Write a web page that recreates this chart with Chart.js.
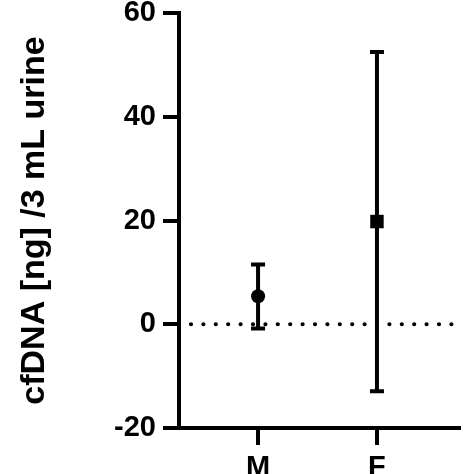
<!DOCTYPE html>
<html>
<head>
<meta charset="utf-8">
<script src="https://cdn.jsdelivr.net/npm/chart.js@4.4.1/dist/chart.umd.min.js"></script>
<style>
  html, body { margin: 0; padding: 0; background: #fff; }
  #wrap { width: 474px; height: 474px; }
</style>
</head>
<body>
<div id="wrap"><canvas id="errChart" width="474" height="474"></canvas></div>
<script>
// data
const categories = ['M', 'F'];
const means = [5.4, 19.8];
const upper = [11.5, 52.5];
const lower = [-0.8, -12.9];
const markers = ['circle', 'rect'];
const markerSize = [7, 9.5];
const yTicks = [-20, 0, 20, 40, 60];

const FONT = '"Liberation Sans", Arial, sans-serif';

// dotted zero line + error bars, drawn through the chart scales
const errorBars = {
    id: 'errorBars',
    beforeDatasetsDraw(chart) {
        const ctx = chart.ctx;
        const xs = chart.scales.x, ys = chart.scales.y;
        const area = chart.chartArea;

        // reference line at 0
        ctx.save();
        ctx.strokeStyle = '#000';
        ctx.lineWidth = 4.2;
        ctx.lineCap = 'round';
        ctx.setLineDash([0, 12.4]);
        const y0 = ys.getPixelForValue(0);
        ctx.beginPath();
        ctx.moveTo(area.left + 12, y0);
        ctx.lineTo(area.right - 2, y0);
        ctx.stroke();
        ctx.restore();

        // whiskers
        ctx.save();
        ctx.strokeStyle = '#000';
        ctx.lineWidth = 4;
        ctx.lineCap = 'butt';
        categories.forEach((c, i) => {
            const x = xs.getPixelForValue(i + 1);
            const yHi = ys.getPixelForValue(upper[i]);
            const yLo = ys.getPixelForValue(lower[i]);
            ctx.beginPath();
            ctx.moveTo(x, yHi);
            ctx.lineTo(x, yLo);
            ctx.moveTo(x - 7, yHi);
            ctx.lineTo(x + 7, yHi);
            ctx.moveTo(x - 7, yLo);
            ctx.lineTo(x + 7, yLo);
            ctx.stroke();
        });
        ctx.restore();
    }
};

var ctx = document.getElementById('errChart').getContext('2d');
var errChart = new Chart(ctx, {
    type: 'scatter',
    data: {
        datasets: [{
            data: categories.map((c, i) => ({ x: i + 1, y: means[i] })),
            pointStyle: markers,
            pointRadius: markerSize,
            backgroundColor: '#000',
            borderColor: '#000',
            borderWidth: 0,
            showLine: false
        }]
    },
    options: {
        responsive: false,
        animation: false,
        layout: { padding: { top: 13, right: 15, left: 0, bottom: 0 } },
        plugins: {
            legend: { display: false },
            tooltip: { enabled: false }
        },
        scales: {
            x: {
                type: 'linear',
                min: 0.335,
                max: 2.69,
                afterBuildTicks: (scale) => {
                    scale.ticks = categories.map((c, i) => ({ value: i + 1 }));
                },
                afterFit: (scale) => {
                    scale.height = 46;
                    scale.paddingLeft = 0;
                    scale.paddingRight = 0;
                },
                grid: {
                    drawOnChartArea: false,
                    drawTicks: true,
                    tickLength: 17,
                    lineWidth: 4,
                    color: '#000'
                },
                border: { display: true, width: 4, color: '#000' },
                ticks: {
                    color: '#000',
                    padding: 6,
                    font: { family: FONT, size: 29, weight: 'bold' },
                    callback: (v) => categories[Math.round(v) - 1]
                }
            },
            y: {
                min: -20,
                max: 60,
                afterBuildTicks: (scale) => {
                    scale.ticks = yTicks.map(v => ({ value: v }));
                },
                afterFit: (scale) => {
                    scale.width = 179;
                    scale.paddingTop = 0;
                    scale.paddingBottom = 0;
                },
                grid: {
                    drawOnChartArea: false,
                    drawTicks: true,
                    tickLength: 16,
                    lineWidth: 4,
                    color: '#000'
                },
                border: { display: true, width: 4, color: '#000' },
                ticks: {
                    color: '#000',
                    padding: 7,
                    font: { family: FONT, size: 29, weight: 'bold' }
                },
                title: {
                    display: true,
                    text: 'cfDNA [ng] /3 mL urine',
                    color: '#000',
                    padding: { top: 14, bottom: 0 },
                    font: { family: FONT, size: 34, weight: 'bold' }
                }
            }
        }
    },
    plugins: [errorBars]
});
</script>
</body>
</html>
